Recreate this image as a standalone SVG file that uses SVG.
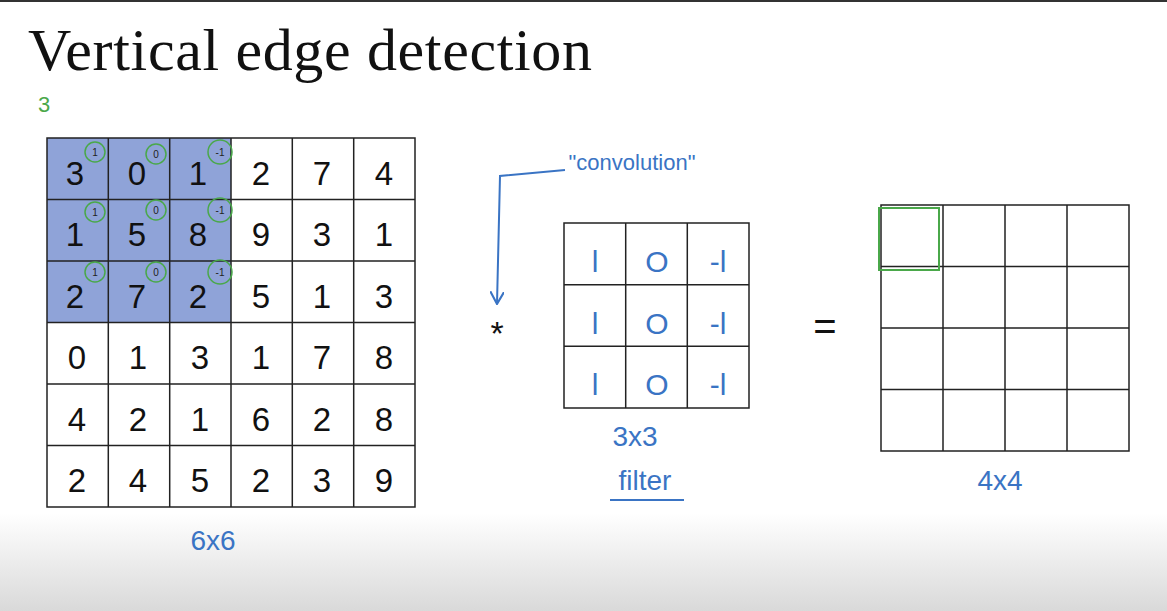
<svg xmlns="http://www.w3.org/2000/svg" width="1167" height="611" viewBox="0 0 1167 611">
<defs>
<linearGradient id="bg" x1="0" y1="0" x2="0" y2="1">
<stop offset="0" stop-color="#ffffff"/><stop offset="0.84" stop-color="#ffffff"/><stop offset="1" stop-color="#d9d9d9"/>
</linearGradient>
<marker id="ah" viewBox="0 0 10 10" refX="9" refY="5" markerWidth="14" markerHeight="14" orient="auto" markerUnits="userSpaceOnUse">
<path d="M0,0 L9,5 L0,10" fill="none" stroke="#3a74c4" stroke-width="1.5"/>
</marker>
</defs>
<style>
.g{fill:none;stroke:#222;stroke-width:1.5}
.n{font-family:"Liberation Sans",Arial,sans-serif;font-size:33px;fill:#111;text-anchor:middle}
.h{font-family:"Liberation Sans",Arial,sans-serif;fill:#3a74c4;text-anchor:middle}
.c{fill:none;stroke:#4aa84a;stroke-width:1.5}
.s{font-family:"Liberation Sans",Arial,sans-serif;font-size:10px;fill:#222;text-anchor:middle}
</style>
<rect width="1167" height="611" fill="url(#bg)"/>
<rect x="0" y="0" width="1167" height="2" fill="#333"/>
<text x="28" y="70" font-family="Liberation Serif,serif" font-size="60" fill="#111" textLength="564">Vertical edge detection</text>
<text x="38" y="112" font-family="Liberation Sans,sans-serif" font-size="22" fill="#4aa84a">3</text>

<g id="input">
<rect x="47" y="138" width="184" height="184" fill="#8fa3d8"/>
<path class="g" d="M47,138H415V507H47Z M108.3,138V507 M169.7,138V507 M231,138V507 M292.3,138V507 M353.7,138V507 M47,199.5H415 M47,261H415 M47,322.5H415 M47,384H415 M47,445.5H415"/>
<g class="n">
<text x="75" y="185">3</text><text x="137" y="185">0</text><text x="198" y="185">1</text><text x="261" y="185">2</text><text x="322" y="185">7</text><text x="384" y="185">4</text>
<text x="75" y="246">1</text><text x="137" y="246">5</text><text x="198" y="246">8</text><text x="261" y="246">9</text><text x="322" y="246">3</text><text x="384" y="246">1</text>
<text x="75" y="308">2</text><text x="137" y="308">7</text><text x="198" y="308">2</text><text x="261" y="308">5</text><text x="322" y="308">1</text><text x="384" y="308">3</text>
<text x="77" y="369">0</text><text x="138" y="369">1</text><text x="200" y="369">3</text><text x="261" y="369">1</text><text x="322" y="369">7</text><text x="384" y="369">8</text>
<text x="77" y="431">4</text><text x="138" y="431">2</text><text x="200" y="431">1</text><text x="261" y="431">6</text><text x="322" y="431">2</text><text x="384" y="431">8</text>
<text x="77" y="492">2</text><text x="138" y="492">4</text><text x="200" y="492">5</text><text x="261" y="492">2</text><text x="322" y="492">3</text><text x="384" y="492">9</text>
</g>
<g class="c">
<circle cx="95" cy="152" r="10"/><circle cx="156" cy="154" r="10"/><circle cx="220" cy="152" r="12"/>
<circle cx="95" cy="212" r="10"/><circle cx="156" cy="210" r="10"/><circle cx="220" cy="210" r="12"/>
<circle cx="95" cy="272" r="10"/><circle cx="156" cy="272" r="10"/><circle cx="220" cy="272" r="12"/>
</g>
<g class="s">
<text x="95" y="156">1</text><text x="156" y="158">0</text><text x="220" y="156">-1</text>
<text x="95" y="216">1</text><text x="156" y="214">0</text><text x="220" y="214">-1</text>
<text x="95" y="276">1</text><text x="156" y="276">0</text><text x="220" y="276">-1</text>
</g>
<text class="h" x="213" y="550" font-size="28">6x6</text>
</g>

<g id="filter">
<path class="g" d="M564,223H749V408H564Z M625.7,223V408 M687.3,223V408 M564,284.7H749 M564,346.3H749"/>
<g class="h" font-size="30">
<text x="595" y="272">l</text><text x="657" y="272">O</text><text x="718" y="272">-l</text>
<text x="595" y="334">l</text><text x="657" y="334">O</text><text x="718" y="334">-l</text>
<text x="595" y="395">l</text><text x="657" y="395">O</text><text x="718" y="395">-l</text>
</g>
<text class="h" x="635" y="446" font-size="28">3x3</text>
<text class="h" x="645" y="490" font-size="28">filter</text>
<path d="M610,500H684" stroke="#3a74c4" stroke-width="2"/>
</g>

<g id="output">
<path class="g" d="M881,205H1129V451H881Z M943,205V451 M1005,205V451 M1067,205V451 M881,266.5H1129 M881,328H1129 M881,389.5H1129"/>
<rect x="879" y="208" width="60" height="62" fill="none" stroke="#4aa84a" stroke-width="2"/>
<text class="h" x="1000" y="490" font-size="28">4x4</text>
</g>

<g id="ops" font-family="Liberation Sans,sans-serif" fill="#111">
<text x="497" y="345" font-size="34" text-anchor="middle">*</text>
<text x="825" y="340" font-size="40" text-anchor="middle">=</text>
<text class="h" x="632" y="170" font-size="22">"convolution"</text>
</g>

<g id="connectors">
<path d="M565,170 L500,176 L497,304" fill="none" stroke="#3a74c4" stroke-width="2" marker-end="url(#ah)"/>
</g>
</svg>
